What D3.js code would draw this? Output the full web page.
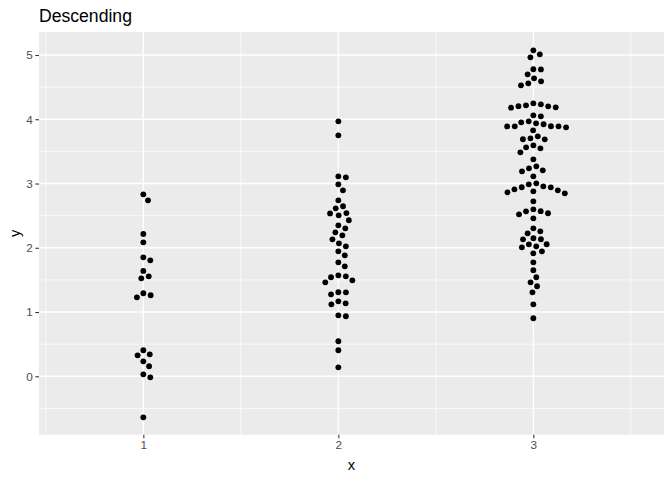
<!DOCTYPE html>
<html>
<head>
<meta charset="utf-8">
<script src="https://cdn.jsdelivr.net/npm/d3@7"></script>
<style>
  body { margin: 0; background: #fff; }
  text { font-family: "Liberation Sans", Arial, sans-serif; }
</style>
</head>
<body>
<div id="chart"></div>
<script>
/* CONSTANTS AND GLOBALS */
const width = 672,
  height = 480,
  margin = { top: 32, bottom: 45.3, left: 39, right: 8 },
  radius = 2.9,
  spacing = 7.6; // beeswarm point spacing in px

// y values, one array per group
const group1 = [2.832, 2.739, 2.214, 2.085, 1.852, 1.805, 1.639, 1.556, 1.525, 1.292,
  1.261, 1.229, 0.405, 0.342, 0.327, 0.233, 0.156, 0.031, -0.016, -0.638];

const group2 = [3.968, 3.750, 3.112, 3.097, 2.988, 2.894, 2.739, 2.646, 2.614, 2.540,
  2.535, 2.505, 2.428, 2.350, 2.303, 2.241, 2.194, 2.132, 2.070, 2.023,
  1.945, 1.883, 1.774, 1.712, 1.572, 1.556, 1.541, 1.494, 1.463, 1.308,
  1.306, 1.276, 1.167, 1.136, 1.120, 0.949, 0.934, 0.545, 0.405, 0.140];

const group3 = [5.073, 5.011, 4.964, 4.778, 4.776, 4.700, 4.637, 4.591, 4.560, 4.528,
  4.248, 4.233, 4.217, 4.203, 4.201, 4.186, 4.180, 4.062, 4.046, 3.968,
  3.953, 3.937, 3.922, 3.891, 3.890, 3.890, 3.889, 3.875, 3.828, 3.735,
  3.704, 3.689, 3.687, 3.595, 3.564, 3.548, 3.486, 3.377, 3.268, 3.237,
  3.206, 3.190, 3.112, 3.003, 2.988, 2.957, 2.942, 2.940, 2.910, 2.894,
  2.879, 2.863, 2.848, 2.723, 2.599, 2.569, 2.567, 2.537, 2.521, 2.459,
  2.303, 2.256, 2.225, 2.148, 2.133, 2.131, 2.055, 2.053, 2.023, 2.007,
  1.945, 1.914, 1.774, 1.650, 1.541, 1.463, 1.401, 1.307, 1.120, 0.903];

const groups = [1, 2, 3];
const groupValues = [group1, group2, group3];

const xTicks = [1, 2, 3];
const xMinor = [0.5, 1.5, 2.5, 3.5];
const yTicks = [0, 1, 2, 3, 4, 5];
const yMinor = [-0.5, 0.5, 1.5, 2.5, 3.5, 4.5];

const xDomain = [0.465, 3.67];
const yDomain = [-0.909, 5.358];

/* SCALES */
const xScale = d3.scaleLinear()
  .domain(xDomain)
  .range([margin.left, width - margin.right]);

const yScale = d3.scaleLinear()
  .domain(yDomain)
  .range([height - margin.bottom, margin.top]);

// beeswarm with priority "descending": highest values are placed first,
// each new point goes to the free offset closest to the centre line
function swarm(values, pxPerUnit) {
  const pts = values.map((v, i) => ({ v: v * pxPerUnit / spacing, i, off: 0 }));
  const order = pts.slice().sort((a, b) => b.v - a.v || a.i - b.i);
  const placed = [];
  order.forEach(p => {
    const near = placed.filter(q => Math.abs(p.v - q.v) < 1);
    if (near.length) {
      const cand = [0];
      near.forEach(q => cand.push(q.off + Math.sqrt(1 - (p.v - q.v) ** 2)));
      near.forEach(q => cand.push(q.off - Math.sqrt(1 - (p.v - q.v) ** 2)));
      let best = Infinity;
      cand.forEach(c => {
        const bad = near.some(q => (p.v - q.v) ** 2 + (c - q.off) ** 2 < 0.999);
        if (!bad && Math.abs(c) < Math.abs(best)) best = c;
      });
      p.off = best;
    }
    placed.push(p);
  });
  return pts.map(p => p.off * spacing);
}

const yPx = Math.abs(yScale(1) - yScale(0));
const xPx = xScale(1) - xScale(0);

const points = [];
groups.forEach((g, gi) => {
  const vals = groupValues[gi];
  const offs = swarm(vals, yPx);
  vals.forEach((v, i) => points.push({ x: g + offs[i] / xPx, y: v }));
});

/* SVG */
const svg = d3.select("#chart")
  .append("svg")
  .attr("width", width)
  .attr("height", height);

// panel background
svg.append("rect")
  .attr("x", margin.left)
  .attr("y", margin.top)
  .attr("width", width - margin.left - margin.right)
  .attr("height", height - margin.top - margin.bottom)
  .attr("fill", "#EBEBEB");

// grid lines
const grid = svg.append("g").attr("stroke", "#fff");

grid.selectAll(".ymin")
  .data(yMinor)
  .join("line")
  .attr("x1", margin.left)
  .attr("x2", width - margin.right)
  .attr("y1", d => yScale(d))
  .attr("y2", d => yScale(d))
  .attr("stroke-width", 0.71);

grid.selectAll(".xmin")
  .data(xMinor)
  .join("line")
  .attr("y1", margin.top)
  .attr("y2", height - margin.bottom)
  .attr("x1", d => xScale(d))
  .attr("x2", d => xScale(d))
  .attr("stroke-width", 0.71);

grid.selectAll(".ymaj")
  .data(yTicks)
  .join("line")
  .attr("x1", margin.left)
  .attr("x2", width - margin.right)
  .attr("y1", d => yScale(d))
  .attr("y2", d => yScale(d))
  .attr("stroke-width", 1.42);

grid.selectAll(".xmaj")
  .data(xTicks)
  .join("line")
  .attr("y1", margin.top)
  .attr("y2", height - margin.bottom)
  .attr("x1", d => xScale(d))
  .attr("x2", d => xScale(d))
  .attr("stroke-width", 1.42);

// axes
const xAxis = d3.axisBottom(xScale).tickValues(xTicks).tickFormat(d3.format("d"))
  .tickSize(3.67).tickPadding(2.6);
const yAxis = d3.axisLeft(yScale).tickValues(yTicks).tickFormat(d3.format("d"))
  .tickSize(3.67).tickPadding(2.6);

svg.append("g")
  .attr("transform", `translate(0, ${height - margin.bottom})`)
  .call(xAxis)
  .call(g => g.select(".domain").remove());

svg.append("g")
  .attr("transform", `translate(${margin.left}, 0)`)
  .call(yAxis)
  .call(g => g.select(".domain").remove());

svg.selectAll(".tick line").attr("stroke", "#333333").attr("stroke-width", 1.07);
svg.selectAll(".tick text")
  .attr("fill", "#4D4D4D")
  .style("font-size", "11.7px")
  .style("font-family", "'Liberation Sans', Arial, sans-serif");

// points
svg.append("g")
  .selectAll("circle")
  .data(points)
  .join("circle")
  .attr("cx", d => xScale(d.x))
  .attr("cy", d => yScale(d.y))
  .attr("r", radius)
  .attr("fill", "#000");

// titles
svg.append("text")
  .attr("x", margin.left)
  .attr("y", 22)
  .style("font-size", "17.6px")
  .attr("fill", "#000")
  .text("Descending");

svg.append("text")
  .attr("x", (margin.left + width - margin.right) / 2)
  .attr("y", 470)
  .attr("text-anchor", "middle")
  .style("font-size", "14.7px")
  .attr("fill", "#000")
  .text("x");

svg.append("text")
  .attr("transform", `translate(20, ${(margin.top + height - margin.bottom) / 2}) rotate(-90)`)
  .attr("text-anchor", "middle")
  .style("font-size", "14.7px")
  .attr("fill", "#000")
  .text("y");
</script>
</body>
</html>
